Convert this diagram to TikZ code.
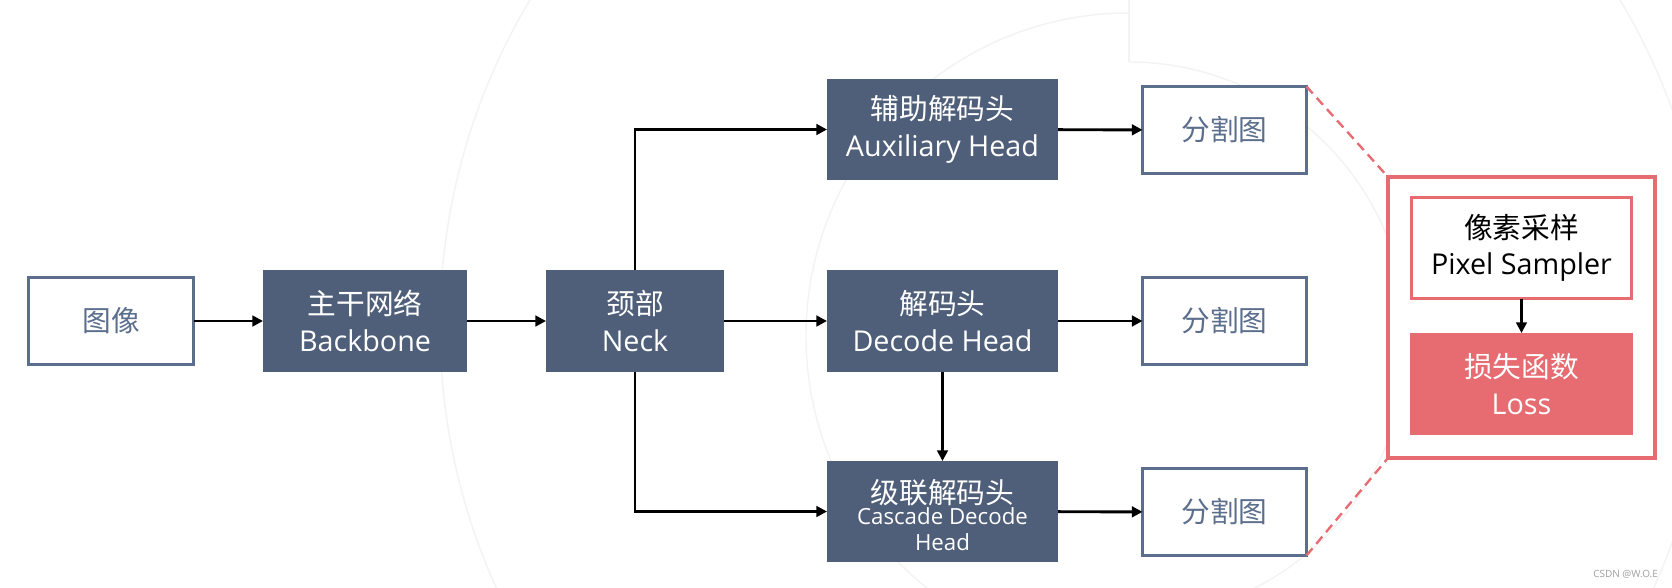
\documentclass[tikz,border=0pt]{standalone}
\usepackage{fontspec}
\setmainfont{Open Sans}
\newfontfamily\cjk{Noto Sans CJK SC}
\usetikzlibrary{arrows.meta}
\definecolor{slate}{HTML}{4F5F7A}
\definecolor{slateline}{HTML}{5B6E8C}
\definecolor{redc}{HTML}{E66C72}
\definecolor{bgarc}{HTML}{F3F3F3}
\begin{document}
\begin{tikzpicture}[x=0.03cm,y=-0.03cm,
  darkbox/.style={fill=slate, text=white, inner sep=0pt, outer sep=0pt, align=center,
    font=\fontsize{24.5}{31}\selectfont},
  whitebox/.style={draw=slateline, line width=2.8pt, fill=white, text=slateline, inner sep=0pt,
    outer sep=0pt, align=center, minimum width=164*0.03cm, minimum height=87*0.03cm,
    font=\cjk\fontsize{24.5}{31}\selectfont},
  arr/.style={line width=2.5pt, -{Triangle[length=9pt,width=9pt]}},
  bgline/.style={draw=bgarc, line width=1.2pt}]
\useasboundingbox[fill=white] (0,0) rectangle (1672,588);
% faint background arcs
\begin{scope}
\clip (0,0) rectangle (1672,588);
\draw[bgline] (1075,326) circle[radius=635];
\draw[bgline] (1129,13) arc[start angle=270, end angle=90, radius=323];
\draw[bgline] (1129,62) arc[start angle=-90, end angle=90, radius=278];
\draw[bgline] (1129,0) -- (1129,62);
\end{scope}
% nodes
\node[whitebox, minimum width=165*0.03cm] (img) at (111,321) {图像};
\node[darkbox, minimum width=204*0.03cm, minimum height=102*0.03cm] (bb) at (365,321) {{\cjk 主干网络}\\Backbone};
\node[darkbox, minimum width=178*0.03cm, minimum height=102*0.03cm] (neck) at (635,321) {{\cjk 颈部}\\Neck};
\node[darkbox, minimum width=231*0.03cm, minimum height=101*0.03cm] (aux) at (942.5,129.5) {{\cjk 辅助解码头}\\Auxiliary Head};
\node[darkbox, minimum width=231*0.03cm, minimum height=102*0.03cm] (dec) at (942.5,321) {{\cjk 解码头}\\Decode Head};
\node[darkbox, minimum width=231*0.03cm, minimum height=101*0.03cm] (casc) at (942.5,511.5)
  {\raisebox{-7pt}[\height][\depth]{\begin{tabular}{@{}c@{}}{\cjk 级联解码头}\\[-13pt]
   {\fontsize{19}{21}\selectfont Cascade Decode}\\[-9pt]
   {\fontsize{19}{21}\selectfont Head}\end{tabular}}};
\node[whitebox] (seg1) at (1224.5,130) {分割图};
\node[whitebox] (seg2) at (1224.5,321) {分割图};
\node[whitebox] (seg3) at (1224.5,512) {分割图};
\node[draw=redc, line width=3.3pt, fill=white, inner sep=0pt, outer sep=0pt,
  minimum width=267*0.03cm, minimum height=281*0.03cm] (loss box) at (1521.5,317.5) {};
\node[draw=redc, line width=2.8pt, fill=white, text=black, inner sep=0pt, outer sep=0pt, align=center,
  minimum width=220*0.03cm, minimum height=101*0.03cm, font=\fontsize{24.5}{31}\selectfont]
  (sampler) at (1521.5,248) {{\cjk 像素采样}\\Pixel Sampler};
\node[fill=redc, text=white, inner sep=0pt, outer sep=0pt, align=center,
  minimum width=223*0.03cm, minimum height=102*0.03cm, font=\fontsize{24.5}{31}\selectfont]
  (loss) at (1521.5,384) {{\cjk 损失函数}\\Loss};
\node[anchor=east, text=gray!75, inner sep=0pt, font=\fontsize{8.5}{10}\selectfont] (wm) at (1658,574) {CSDN @W.O.E};
% connectors
\draw[arr] (img) -- (bb);
\draw[arr] (bb) -- (neck);
\draw[arr] (neck) -- (dec);
\draw[arr] (neck.north) |- (aux.west);
\draw[arr] (neck.south) |- (casc.west);
\draw[arr] (dec) -- (casc);
\draw[arr] (aux) -- (seg1);
\draw[arr] (dec) -- (seg2);
\draw[arr] (casc) -- (seg3);
\draw[arr, line width=2pt] (sampler) -- (loss);
\draw[redc, line width=2pt, dash pattern=on 8pt off 5pt] (seg1.north east) -- (loss box.north west);
\draw[redc, line width=2pt, dash pattern=on 8pt off 5pt] (seg3.south east) -- (loss box.south west);
\end{tikzpicture}
\end{document}
